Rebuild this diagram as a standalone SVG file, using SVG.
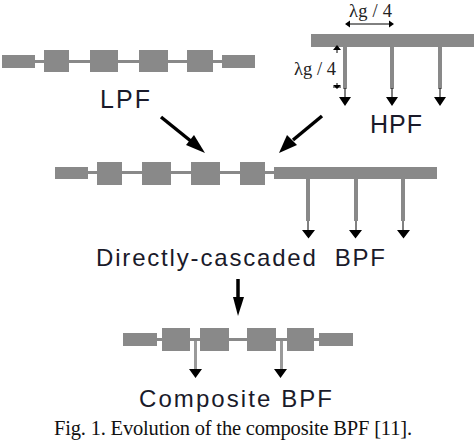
<svg xmlns="http://www.w3.org/2000/svg" width="474" height="440" viewBox="0 0 474 440">
<style>
.g{fill:#898989}
.lb{font-family:"Liberation Sans",Arial,sans-serif;fill:#1a1a2a}
.la{font-family:"Liberation Serif",serif;font-size:18.500px;fill:#222}
.a{stroke:#000;fill:none}
.h{fill:#000}
</style>
<rect width="474" height="440" fill="#fff"/>
<g id="lpf">
<rect class="g" x="35" y="60" width="200" height="3"/>
<rect class="g" x="2" y="55" width="33" height="13"/>
<rect class="g" x="44" y="50" width="25" height="22"/>
<rect class="g" x="90" y="50" width="28" height="22"/>
<rect class="g" x="139" y="50" width="29" height="22"/>
<rect class="g" x="187" y="50" width="26" height="22"/>
<rect class="g" x="222" y="55" width="33" height="13"/>
<text class="lb" x="100" y="108" font-size="25" textLength="50">LPF</text>
</g>
<g id="hpf">
<rect class="g" x="311" y="34" width="163" height="13"/>
<rect class="g" x="343" y="47" width="4" height="42"/>
<rect class="g" x="390" y="47" width="4" height="42"/>
<rect class="g" x="438" y="47" width="4" height="42"/>
<path class="a" d="M345 88V97M392 88V97M440 88V97"/>
<path class="h" d="M339 97h12l-6 9zM386 97h12l-6 9zM434 97h12l-6 9z"/>
<text class="lb" x="370" y="133" font-size="25" textLength="52">HPF</text>
<text class="la" x="349" y="17" textLength="43">λg / 4</text>
<text class="la" x="294" y="75" textLength="42">λg / 4</text>
<path class="a" d="M348 24H391"/>
<path class="h" d="M345 24l5-3.500v7zM394 24l-5-3.500v7z"/>
<path class="a" d="M337 48V53M337 83V88M333 87H341"/>
<path class="h" d="M337 45l4 5h-8zM337 89l-4-4h8z"/>
</g>
<g id="bpf">
<rect class="g" x="85" y="171" width="190" height="3"/>
<rect class="g" x="55" y="167" width="33" height="12"/>
<rect class="g" x="97" y="162" width="25" height="23"/>
<rect class="g" x="142" y="162" width="29" height="23"/>
<rect class="g" x="191" y="162" width="29" height="23"/>
<rect class="g" x="240" y="162" width="25" height="23"/>
<rect class="g" x="274" y="167" width="163" height="12"/>
<rect class="g" x="306" y="179" width="4" height="42"/>
<rect class="g" x="354" y="179" width="4" height="42"/>
<rect class="g" x="401" y="179" width="4" height="42"/>
<path class="a" d="M308 221V230M356 221V230M403 221V230"/>
<path class="h" d="M302 230h13l-6.500 8.500zM349 230h13l-6.500 8.500zM397 230h13l-6.500 8.500z"/>
<text class="lb" x="96" y="266" font-size="24" textLength="289" xml:space="preserve">Directly-cascaded  BPF</text>
</g>
<g id="composite">
<rect class="g" x="150" y="338" width="190" height="3"/>
<rect class="g" x="123" y="333" width="34" height="13"/>
<rect class="g" x="162" y="328" width="28" height="23"/>
<rect class="g" x="200" y="328" width="29" height="23"/>
<rect class="g" x="247" y="328" width="29" height="23"/>
<rect class="g" x="287" y="328" width="27" height="23"/>
<rect class="g" x="319" y="333" width="34" height="13"/>
<rect x="194" y="341" width="3" height="28" fill="#9a9a9a"/>
<rect x="280" y="341" width="3" height="28" fill="#9a9a9a"/>
<path class="h" d="M189 369h13l-6.500 9zM274 369h13l-6.500 9z"/>
<text class="lb" x="139" y="407" font-size="24" textLength="193">Composite BPF</text>
</g>
<g id="connectors">
<path d="M161 117L192 142" stroke="#000" stroke-width="3.500" fill="none"/>
<path class="h" d="M205 153L186 145L194 135z"/>
<path d="M322 116L293 140" stroke="#000" stroke-width="3.500" fill="none"/>
<path class="h" d="M279 153L287 135L297 145z"/>
<path d="M238 279V300" stroke="#000" stroke-width="3.500" fill="none"/>
<path class="h" d="M238 316L233 297H244z"/>
</g>
<text id="caption" x="54" y="435" font-family="'Liberation Serif',serif" font-size="20.500" fill="#111" textLength="358">Fig. 1. Evolution of the composite BPF [11].</text>
</svg>
